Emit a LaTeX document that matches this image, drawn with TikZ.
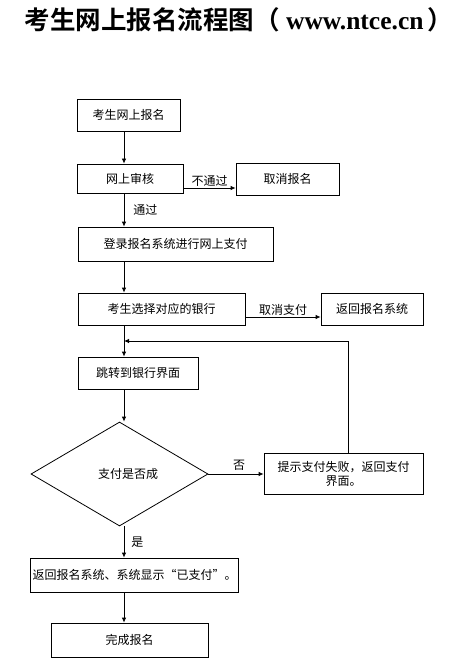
\documentclass[tikz,border=0pt]{standalone}
\usepackage{fontspec}
\usepackage{tikz}
\usepackage{xcolor}
\usetikzlibrary{arrows.meta,shapes.geometric}
\newfontfamily\cjk{Noto Sans CJK SC}[BoldFont={Noto Sans CJK SC Bold}]
\newfontfamily\titleserif{Liberation Serif}
\tikzset{
    flow-box/.style = {draw=black, fill=white, line width=0.8pt, rectangle, inner sep=2pt, font=\cjk\fontsize{12}{15}\selectfont},
    flow-diamond/.style = {draw=black, fill=white, line width=0.8pt, diamond, inner sep=0pt, font=\cjk\fontsize{12}{15}\selectfont},
    flow-arrow/.style = {draw=black, line width=0.8pt, -{Latex[length=5pt,width=4.5pt]}},
    flow-label/.style = {font=\cjk\fontsize{12}{15}\selectfont, inner sep=1pt},
}

\begin{document}
\begin{tikzpicture}[x=1pt,y=-1pt]
\useasboundingbox (0,0) rectangle (460,668);
\node[font=\cjk\bfseries\fontsize{25.5}{28}\selectfont, inner sep=0pt] (title) at (239,20) {考生网上报名流程图（{\titleserif\bfseries\ www.ntce.cn\,}）};

\coordinate (spine) at (124,0);
\node[flow-box, minimum width=103pt, minimum height=32pt] (reg) at (128.5,115) {考生网上报名};
\node[flow-box, minimum width=106pt, minimum height=29pt] (audit) at (130,178.5) {网上审核};
\node[flow-box, minimum width=103pt, minimum height=32pt] (cancel) at (287.5,179) {取消报名};
\node[flow-box, minimum width=195pt, minimum height=34pt] (login) at (175.5,244) {登录报名系统进行网上支付};
\node[flow-box, minimum width=167pt, minimum height=32pt] (bank) at (161.5,309) {考生选择对应的银行};
\node[flow-box, minimum width=102pt, minimum height=32pt] (back) at (372,309) {返回报名系统};
\node[flow-box, minimum width=120pt, minimum height=32pt] (jump) at (138,373) {跳转到银行界面};
\node[flow-diamond, minimum width=177pt, minimum height=104pt] (check) at (119.5,474) {\hspace{17pt}支付是否成};
\node[flow-box, minimum width=159pt, minimum height=41pt, align=center, font=\cjk\fontsize{12}{14}\selectfont] (fail) at (343.5,473.5) {提示支付失败，返回支付\\界面。};
\node[flow-box, minimum width=205pt, minimum height=34pt] (paid) at (134.5,575) {返回报名系统、系统显示“已支付”。};
\node[flow-box, minimum width=157pt, minimum height=34pt] (done) at (129.5,640) {完成报名};
\coordinate (merge) at (124,341);

% main line
\draw[flow-arrow] (reg.south -| spine) -- (audit.north -| spine);
\draw[flow-arrow] (audit.south -| spine) -- node[flow-label, right=8pt] {通过} (login.north -| spine);
\draw[flow-arrow] (login.south -| spine) -- (bank.north -| spine);
\draw[flow-arrow] (bank.south -| spine) -- (jump.north -| spine);
\draw[flow-arrow] (jump.south -| spine) -- ([xshift=4.5pt]check.north);
\draw[flow-arrow] ([xshift=4.5pt]check.south) -- node[flow-label, right=6pt] {是} (paid.north -| spine);
\draw[flow-arrow] (paid.south -| spine) -- (done.north -| spine);

% side branches
\draw[flow-arrow] ([yshift=-9.5pt]audit.east) -- node[flow-label, above=0pt] {不通过} ([yshift=-9.5pt]audit.east -| cancel.west);
\draw[flow-arrow] ([yshift=-8pt]bank.east) -- node[flow-label, above=0pt] {取消支付} ([yshift=-8pt]bank.east -| back.west);
\draw[flow-arrow] (check.east) -- node[flow-label, above=2pt, xshift=3pt] {否} (check.east -| fail.west);
\draw[flow-arrow] ([xshift=4.5pt]fail.north) |- (merge);
\end{tikzpicture}
\end{document}
